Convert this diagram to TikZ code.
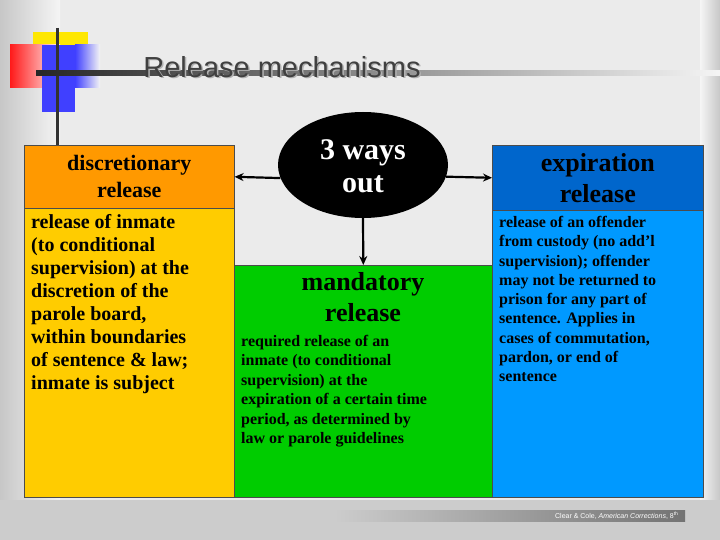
\documentclass[tikz,border=0pt]{standalone}
\usepackage{fontspec}
\setmainfont{Liberation Serif}
\newfontfamily\arialf{Liberation Sans}
\usetikzlibrary{shapes.geometric,arrows.meta}
\definecolor{orh}{HTML}{FF9900}
\definecolor{orb}{HTML}{FFCC00}
\definecolor{grh}{HTML}{339933}
\definecolor{grb}{HTML}{00CC00}
\definecolor{blh}{HTML}{0066CC}
\definecolor{blb}{HTML}{0099FF}
\begin{document}
\begin{tikzpicture}[x=1pt,y=-1pt,
  box/.style={draw=black!70,line width=0.6pt,inner sep=0pt,anchor=north west},
  hdr/.style={align=center},
  txt/.style={align=left,anchor=north west,inner sep=0pt},
  conn/.style={draw=black,line width=2.2pt,-{Stealth[length=9pt,width=8pt]}}]
\useasboundingbox (0,0) rectangle (720,540);
\fill[black!8] (0,0) rectangle (720,540);
\shade[left color=black!22,right color=black!4] (0,0) rectangle (60,540);
\shade[left color=black!4,right color=black!22] (700,0) rectangle (720,540);
\fill[black!20] (0,500) rectangle (720,540);
% decoration
\fill[yellow!90!orange] (33,32) rectangle (88,88);
\shade[left color=red!90,right color=red!5] (10,45) rectangle (60,88);
\fill[blue!75] (42,45) rectangle (75,112);
\shade[left color=blue!75,right color=black!4] (75,45) rectangle (100,88);
\draw[line width=3pt,black!80] (57,28) -- (57,145);
\shade[left color=black!85,right color=black!4] (36,71) rectangle (720,76);
\node[font=\arialf\fontsize{29}{30}\selectfont,text=black!30] (tsh) at (283.5,68.5) {Release mechanisms};
\node[font=\arialf\fontsize{29}{30}\selectfont,text=black!75] (title) at (282,67) {Release mechanisms};
% left
\node[box,fill=orh,minimum width=210,minimum height=63] (lh) at (24,145) {};
\node[hdr,font=\bfseries\fontsize{22}{27}\selectfont] (lht) at (lh.center) {discretionary\\release};
\node[box,fill=orb,minimum width=210,minimum height=289] (lb) at (24,208) {};
\node[txt,font=\bfseries\fontsize{20}{23}\selectfont] (lt) at (31,214) {release of inmate\\(to conditional\\supervision) at the\\discretion of the\\parole board,\\within boundaries\\of sentence \& law;\\inmate is subject};
% middle
\node[ellipse,fill=black,minimum width=170,minimum height=106,inner sep=0pt] (el) at (363,165) {};
\node[font=\bfseries\fontsize{30}{33}\selectfont,text=white,align=center] (elt) at (363,166) {3 ways\\out};
\node[box,fill=grb,minimum width=258,minimum height=232] (mb) at (234,265) {};
\node[font=\bfseries\fontsize{26}{31}\selectfont,align=center] (mh) at (363,297) {mandatory\\release};
\node[txt,font=\bfseries\fontsize{16}{19.5}\selectfont] (mt) at (241,335) {required release of an\\inmate (to conditional\\supervision) at the\\expiration of a certain time\\period, as determined by\\law or parole guidelines};
% right
\node[box,fill=blh,minimum width=211,minimum height=65] (rh) at (492,145) {};
\node[hdr,font=\bfseries\fontsize{26}{31}\selectfont] (rht) at (rh.center) {expiration\\release};
\node[box,fill=blb,minimum width=211,minimum height=287] (rb) at (492,210) {};
\node[txt,font=\bfseries\fontsize{16}{19.3}\selectfont] (rt) at (499,216) {release of an offender\\from custody (no add’l\\supervision); offender\\may not be returned to\\prison for any part of\\sentence. Applies in\\cases of commutation,\\pardon, or end of\\sentence};
% connectors
\draw[conn] (el.189) -- (lh.east);
\draw[conn] (el.-8) -- (rh.west);
\draw[conn] (el.south) -- (mb.north);
% footer
\shade[left color=black!20,right color=black!55] (335,510) rectangle (685,521);
\node[font=\arialf\fontsize{7}{8}\selectfont,text=white,anchor=east] (cite) at (682,515.5) {Clear \& Cole, \textit{American Corrections}, 8\textsuperscript{th}};
\end{tikzpicture}
\end{document}
